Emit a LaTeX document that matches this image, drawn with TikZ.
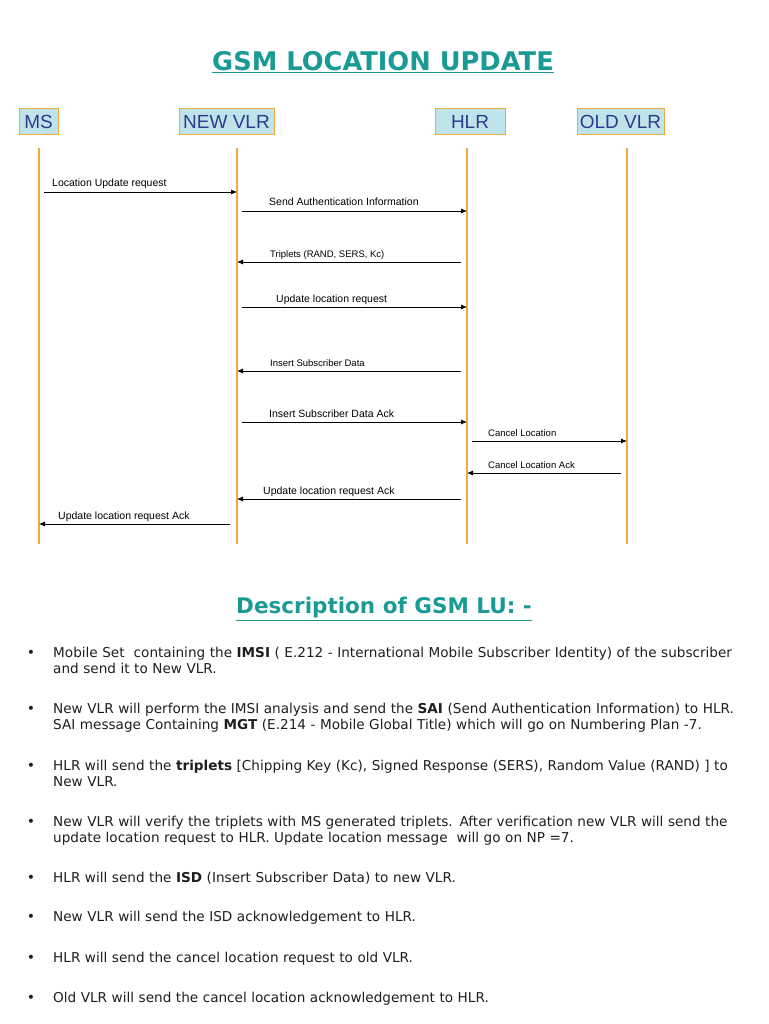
\documentclass[tikz,border=0pt]{standalone}
\usepackage{fontspec}
\setmainfont{DejaVu Sans}
\newfontfamily\arialfont{Liberation Sans}
\usetikzlibrary{arrows.meta}
\definecolor{gsmteal}{RGB}{26,154,148}
\definecolor{boxblue}{RGB}{190,228,234}
\definecolor{lifeorange}{RGB}{242,170,60}
\definecolor{boxtext}{RGB}{46,58,140}
\definecolor{bodytext}{RGB}{30,30,30}
\begin{document}
\begin{tikzpicture}[x=1pt,y=-1pt,
  every node/.style={inner sep=0pt},
  entity/.style={draw=lifeorange,fill=boxblue,text=boxtext,line width=1pt,
    minimum height=26pt,font=\arialfont\fontsize{19}{19}\selectfont},
  lifeline/.style={draw=lifeorange,line width=1.4pt},
  msg/.style={-{Latex[length=6pt,width=5pt]},line width=0.8pt},
  lbl/.style={anchor=base west,font=\arialfont\fontsize{10.5}{12}\selectfont},
  slbl/.style={anchor=base west,font=\arialfont\fontsize{9.5}{11}\selectfont},
  item/.style={anchor=base west,align=left,text width=720pt,text=bodytext,
    font=\fontsize{13.6}{16}\selectfont},
  dot/.style={anchor=base,text=bodytext,font=\fontsize{14}{16}\selectfont}]

\useasboundingbox (0,0) rectangle (768,1024);

\node[text=gsmteal,font=\bfseries\fontsize{25.7}{30}\selectfont] (title) at (383,62)
  {\underline{GSM LOCATION UPDATE}};

\node[entity,minimum width=39pt] (ms) at (38.5,122) {MS};
\node[entity,minimum width=95pt] (nvlr) at (226.5,122) {NEW VLR};
\node[entity,minimum width=70pt] (hlr) at (470,122) {HLR};
\node[entity,minimum width=87pt] (ovlr) at (620.5,122) {OLD VLR};

% life lines
\foreach \n/\x in {ms/39,nvlr/237,hlr/467,ovlr/627}{
  \coordinate (\n-top) at (\x,148);
  \coordinate (\n-bot) at (\x,544);
  \draw[lifeline] (\n-top) -- (\n-bot);
}

% messages
\foreach \i/\y/\xa/\xb/\lx/\st/\txt in {
  1/192/44/237/52/lbl/{Location Update request},
  2/211/242/467/269/lbl/{Send Authentication Information},
  3/262/461/237/270/slbl/{Triplets (RAND, SERS, Kc)},
  4/307/242/467/276/lbl/{Update location request},
  5/371/461/237/270/slbl/{Insert Subscriber Data},
  6/422/242/467/269/lbl/{Insert Subscriber Data Ack},
  7/441/472/627/488/slbl/{Cancel Location},
  8/473/621/467/488/slbl/{Cancel Location Ack},
  9/499/461/237/263/lbl/{Update location request Ack},
  10/524/230/39/58/lbl/{Update location request Ack}}{
  \coordinate (m\i-a) at (\xa,\y);
  \coordinate (m\i-b) at (\xb,\y);
  \draw[msg] (m\i-a) -- (m\i-b);
  \node[\st] (m\i-lbl) at (\lx,\y-5) {\txt};
}

\node[text=gsmteal,font=\bfseries\fontsize{21.5}{26}\selectfont] (desc) at (384,609)
  {\underline{Description of GSM LU: -}};

% description items
\foreach \i/\y/\txt in {
  1/657/{Mobile Set \ containing the \textbf{IMSI} ( E.212 - International Mobile Subscriber Identity) of the subscriber\\and send it to New VLR.},
  2/713/{New VLR will perform the IMSI analysis and send the \textbf{SAI} (Send Authentication Information) to HLR.\\SAI message Containing \textbf{MGT} (E.214 - Mobile Global Title) which will go on Numbering Plan -7.},
  3/770/{HLR will send the \textbf{triplets} [Chipping Key (Kc), Signed Response (SERS), Random Value (RAND) ] to\\New VLR.},
  4/826/{New VLR will verify the triplets with MS generated triplets. After verification new VLR will send the\\update location request to HLR. Update location message \ will go on NP =7.},
  5/882/{HLR will send the \textbf{ISD} (Insert Subscriber Data) to new VLR.},
  6/921/{New VLR will send the ISD acknowledgement to HLR.},
  7/962/{HLR will send the cancel location request to old VLR.},
  8/1002/{Old VLR will send the cancel location acknowledgement to HLR.}}{
  \node[dot] (dot\i) at (31,\y) {•};
  \node[item] (item\i) at (53,\y) {\txt};
}
\end{tikzpicture}
\end{document}
